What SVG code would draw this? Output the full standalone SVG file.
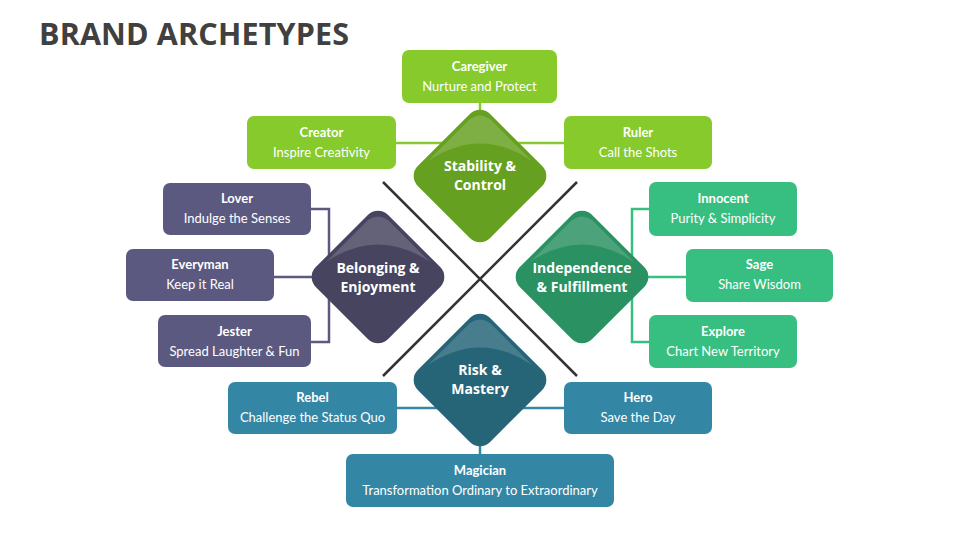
<svg xmlns="http://www.w3.org/2000/svg" width="960" height="540" viewBox="0 0 960 540">
<style>
.title{font-family:"Open Sans","DejaVu Sans",sans-serif;font-weight:700;font-size:30.5px;fill:#404040;letter-spacing:0.15px}
.bt{font-family:"Lato","Open Sans",sans-serif;font-weight:700;font-size:13px;fill:#fff;text-anchor:middle}
.bs{font-family:"Lato","Open Sans",sans-serif;font-size:13px;fill:#fff;text-anchor:middle}
.dt{font-family:"Open Sans","DejaVu Sans",sans-serif;font-weight:700;font-size:14px;fill:#fff;text-anchor:middle}
.hl{fill:#fff;fill-opacity:0.16}
.g1{fill:#86CA2C}.g2{fill:#5B5980}.g3{fill:#37BE81}.g4{fill:#3486A5}
.c1{stroke:#86CA2C}.c2{stroke:#5B5980}.c3{stroke:#37BE81}.c4{stroke:#3486A5}
.conn path{fill:none;stroke-width:2.5}
</style>
<defs>
<rect id="dia" x="-51" y="-51" width="102" height="102" rx="14" ry="14" transform="rotate(45)"/>
<path id="hi" d="M-52,-15 L-10,-57 Q0,-64 10,-57 L52,-15 Q0,-50 -52,-15 Z"/>
</defs>
<rect width="960" height="540" fill="#fff"/>
<text class="title" x="39" y="45">BRAND ARCHETYPES</text>

<g id="connectors" class="conn">
<path class="c1" d="M480,103 V176 M396,143 H564"/>
<path class="c2" d="M311,209 H329 V342 H311 M274,277 H378"/>
<path class="c3" d="M649,209 H632 V342 H649 M686,277 H582"/>
<path class="c4" d="M397,408 H564 M480,380 V454"/>
<path d="M383,182 L577,376 M577,182 L383,376" stroke="#333" stroke-width="3"/>
</g>

<g id="d-stability" transform="translate(480,176)">
<use href="#dia" fill="#66A021"/><use href="#hi" class="hl"/>
<text class="dt" x="0" y="-5">Stability &amp;</text>
<text class="dt" x="0" y="14">Control</text>
</g>
<g id="d-belonging" transform="translate(378,277)">
<use href="#dia" fill="#46445F"/><use href="#hi" class="hl"/>
<text class="dt" x="0" y="-4">Belonging &amp;</text>
<text class="dt" x="0" y="15">Enjoyment</text>
</g>
<g id="d-independence" transform="translate(582,277)">
<use href="#dia" fill="#2A9262"/><use href="#hi" class="hl"/>
<text class="dt" x="0" y="-4">Independence</text>
<text class="dt" x="0" y="15">&amp; Fulfillment</text>
</g>
<g id="d-risk" transform="translate(480,380)">
<use href="#dia" fill="#266578"/><use href="#hi" class="hl"/>
<text class="dt" x="0" y="-5">Risk &amp;</text>
<text class="dt" x="0" y="14">Mastery</text>
</g>

<g id="caregiver"><rect class="g1" x="402" y="50" width="155" height="53" rx="7"/>
<text class="bt" x="479.5" y="71">Caregiver</text><text class="bs" x="479.5" y="91">Nurture and Protect</text></g>
<g id="creator"><rect class="g1" x="247" y="116" width="149" height="53" rx="7"/>
<text class="bt" x="321.5" y="137">Creator</text><text class="bs" x="321.5" y="157">Inspire Creativity</text></g>
<g id="ruler"><rect class="g1" x="564" y="116" width="148" height="53" rx="7"/>
<text class="bt" x="638" y="137">Ruler</text><text class="bs" x="638" y="157">Call the Shots</text></g>

<g id="lover"><rect class="g2" x="163" y="183" width="148" height="52" rx="7"/>
<text class="bt" x="237" y="203">Lover</text><text class="bs" x="237" y="223">Indulge the Senses</text></g>
<g id="everyman"><rect class="g2" x="126" y="249" width="148" height="52" rx="7"/>
<text class="bt" x="200" y="269">Everyman</text><text class="bs" x="200" y="289">Keep it Real</text></g>
<g id="jester"><rect class="g2" x="158" y="315" width="153" height="52" rx="7"/>
<text class="bt" x="234.5" y="336">Jester</text><text class="bs" x="234.5" y="356">Spread Laughter &amp; Fun</text></g>

<g id="innocent"><rect class="g3" x="649" y="182" width="148" height="54" rx="7"/>
<text class="bt" x="723" y="203">Innocent</text><text class="bs" x="723" y="223">Purity &amp; Simplicity</text></g>
<g id="sage"><rect class="g3" x="686" y="249" width="147" height="53" rx="7"/>
<text class="bt" x="759.5" y="269">Sage</text><text class="bs" x="759.5" y="289">Share Wisdom</text></g>
<g id="explore"><rect class="g3" x="649" y="315" width="148" height="53" rx="7"/>
<text class="bt" x="723" y="336">Explore</text><text class="bs" x="723" y="356">Chart New Territory</text></g>

<g id="rebel"><rect class="g4" x="228" y="382" width="169" height="52" rx="7"/>
<text class="bt" x="312.5" y="402">Rebel</text><text class="bs" x="312.5" y="422">Challenge the Status Quo</text></g>
<g id="hero"><rect class="g4" x="564" y="382" width="148" height="52" rx="7"/>
<text class="bt" x="638" y="402">Hero</text><text class="bs" x="638" y="422">Save the Day</text></g>
<g id="magician"><rect class="g4" x="346" y="454" width="268" height="53" rx="7"/>
<text class="bt" x="480" y="475">Magician</text><text class="bs" x="480" y="495">Transformation Ordinary to Extraordinary</text></g>
</svg>
